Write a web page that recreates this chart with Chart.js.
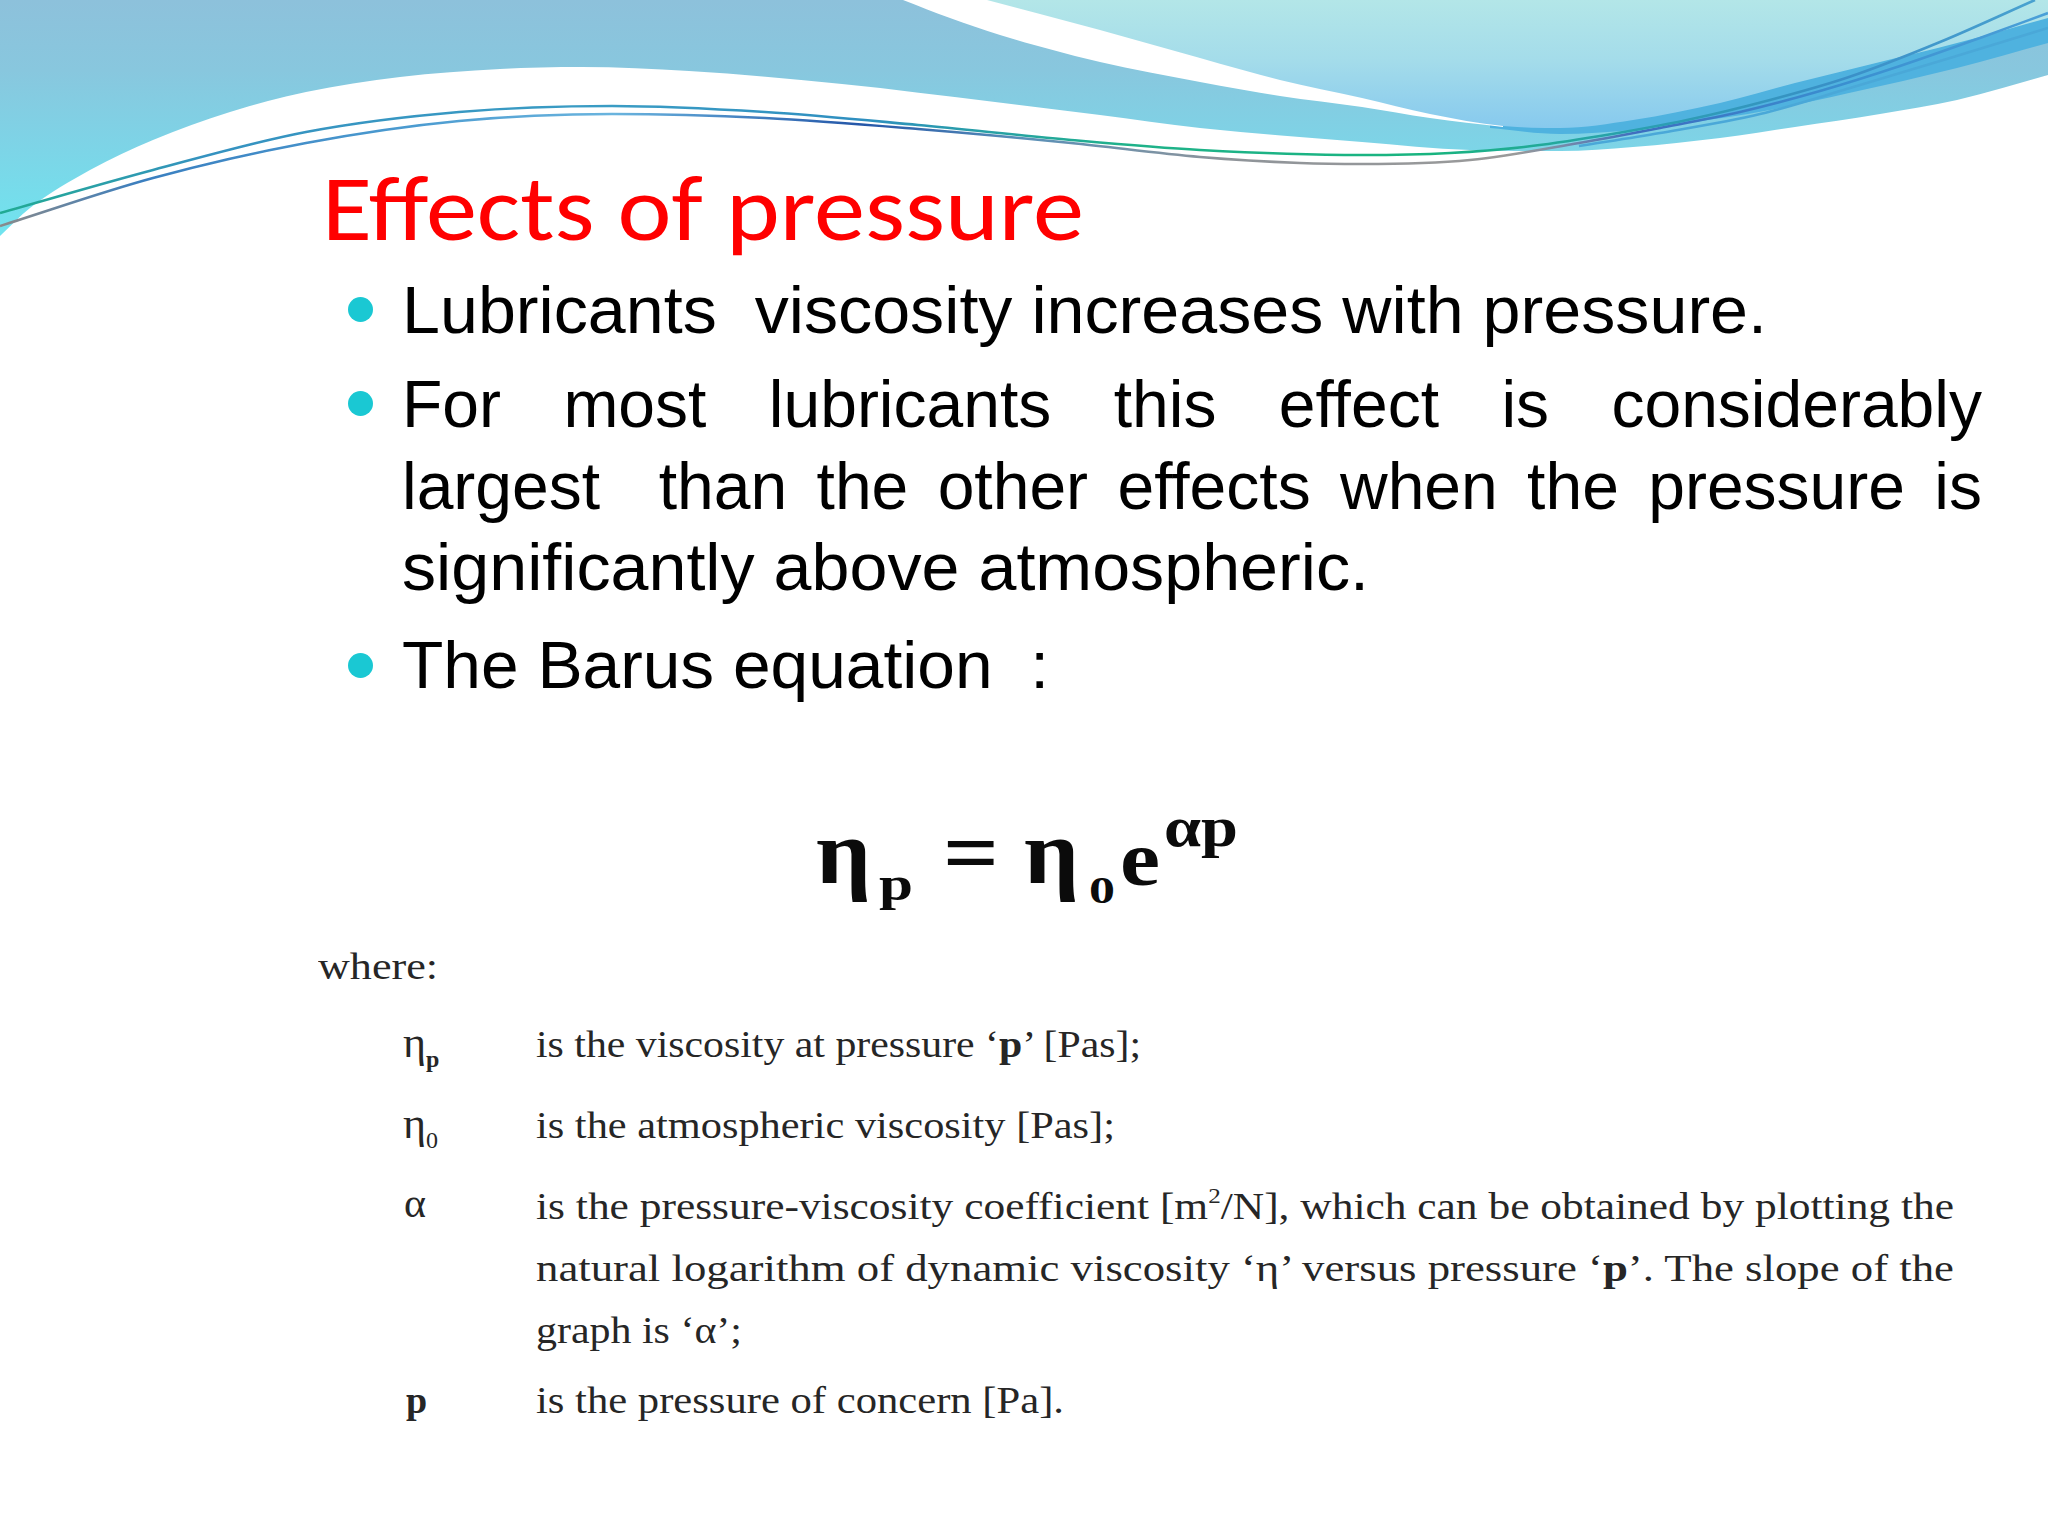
<!DOCTYPE html>
<html>
<head>
<meta charset="utf-8">
<script src="https://cdn.jsdelivr.net/npm/chart.js@4.4.1/dist/chart.umd.min.js"></script>
<style>
html,body{margin:0;padding:0;background:#fff;}
#slide{position:relative;width:2048px;height:1536px;overflow:hidden;background:#fff;}
#waves{position:absolute;left:0;top:0;}
.t{position:absolute;white-space:pre;display:inline-block;transform-origin:0 0;}
.title{font-family:Carlito,Lato,"Open Sans",sans-serif;color:#ff0000;font-size:93px;}
.body{font-family:"Liberation Sans",Arial,sans-serif;font-size:66px;color:#000;}
.ser{font-family:"Liberation Serif","Times New Roman",serif;color:#262626;font-size:38px;}
.eq{font-family:"Liberation Serif","Times New Roman",serif;font-weight:bold;color:#0b0b0b;}
.just{white-space:normal;text-align:justify;text-align-last:justify;}
.dot{position:absolute;width:25px;height:25px;border-radius:50%;background:#1ac8d3;}
</style>
</head>
<body>
<div id="slide">
  <canvas id="waves" width="2048" height="300"></canvas>
</div>
<script>
// wave outlines, [x, y] in page pixels, y measured down from the top
const blueLower = [[0,236],[30,208],[90,170],[153,140],[230,112],[306,92],[400,77],[500,69],[582,67],[689,71],[842,84],[995,102],[1100,115],[1200,128],[1362,142],[1470,150],[1560,151],[1633,147],[1720,138],[1795,127],[1880,114],[1957,100],[2048,75]];
const darkLower = [[1490,128],[1560,134],[1633,130],[1687,123],[1770,110],[1849,93],[1957,68],[2048,43]];
const whiteLower = [[903,0],[950,18],[1000,35],[1100,62],[1200,82],[1280,96],[1362,107],[1430,118],[1503,127]];
const lightLower = [[987,0],[1040,14],[1100,30],[1200,58],[1280,80],[1362,98],[1430,114],[1503,126],[1560,128],[1633,120],[1720,103],[1795,83],[1880,62],[1957,43],[2048,18]];
const swooshGreen = [[0,213],[153,170],[306,132],[459,112],[612,106],[765,112],[918,125],[1071,140],[1200,150],[1362,155],[1450,153],[1524,147],[1600,136],[1687,120],[1770,100],[1849,77],[1940,42],[2035,0]];
const swooshBlue = [[0,226],[153,178],[306,143],[459,121],[612,114],[765,118],[918,129],[1071,143],[1200,157],[1300,163],[1362,164],[1470,160],[1579,143],[1660,128],[1740,112],[1820,91],[1900,66],[1980,38],[2048,13]];
const swooshLight = [[1579,146],[1660,133],[1760,114],[1850,88],[1950,58],[2048,28]];

const pts = a => a.map(p => ({x: p[0], y: p[1]}));

function vGrad(stops) {
  return c => {
    const ch = c.chart;
    if (!ch.chartArea) return stops[0][1];
    const y = ch.scales.y;
    const max = stops[stops.length - 1][0];
    const g = ch.ctx.createLinearGradient(0, y.getPixelForValue(0), 0, y.getPixelForValue(max));
    stops.forEach(s => g.addColorStop(s[0] / max, s[1]));
    return g;
  };
}
function hGrad(stops) {
  return c => {
    const ch = c.chart;
    if (!ch.chartArea) return stops[0][1];
    const g = ch.ctx.createLinearGradient(0, 0, ch.width, 0);
    stops.forEach(s => g.addColorStop(s[0], s[1]));
    return g;
  };
}

function area(data, color, order) {
  return {data: pts(data), fill: {value: 0}, backgroundColor: color, borderWidth: 0,
    pointRadius: 0, cubicInterpolationMode: 'monotone', order: order};
}
function swoosh(data, color, order) {
  return {data: pts(data), fill: false, borderColor: color, borderWidth: 2.6,
    pointRadius: 0, cubicInterpolationMode: 'monotone', order: order};
}

new Chart(document.getElementById('waves'), {
  type: 'line',
  data: {
    datasets: [
      area(blueLower, vGrad([[0,'#8dc1db'],[70,'#88c7de'],[140,'#7ed3e6'],[236,'#70e4ef']]), 10),
      area(darkLower, '#4fb2df', 9),
      area(whiteLower, '#ffffff', 8),
      area(lightLower, vGrad([[0,'#b3e6e8'],[60,'#a4dcea'],[130,'#86c9ee']]), 7),
      swoosh(swooshLight, '#4aa8d8', 3),
      swoosh(swooshBlue, hGrad([[0,'#8a8a8a'],[0.07,'#3a7fc0'],[0.2,'#4b9bd0'],[0.3,'#6ab4de'],[0.42,'#2456a8'],[0.5,'#5a90b8'],[0.6,'#8f9499'],[0.74,'#9a9a9a'],[0.8,'#3d6dc0'],[0.9,'#3a8fd0'],[1,'#4aa0d8']]), 2),
      swoosh(swooshGreen, hGrad([[0,'#20ab92'],[0.1,'#3592c0'],[0.3,'#3a9cc4'],[0.42,'#2f8fc0'],[0.55,'#1fb28a'],[0.7,'#19b47f'],[0.8,'#2aa0b0'],[0.9,'#3a8fc8'],[1,'#4aa3d0']]), 1)
    ]
  },
  options: {
    responsive: false,
    animation: false,
    events: [],
    layout: {padding: 0},
    plugins: {legend: {display: false}, tooltip: {enabled: false}},
    scales: {
      x: {type: 'linear', min: 0, max: 2048, display: false},
      y: {type: 'linear', min: 0, max: 300, reverse: true, display: false}
    }
  }
});

// slide text
const slide = document.getElementById('slide');
function put(cls, html, x, base, fitW, style) {
  const el = document.createElement('div');
  el.className = 't ' + cls;
  el.innerHTML = html;
  if (style) el.style.cssText += style;
  el.style.left = x + 'px';
  el.style.top = '0px';
  slide.appendChild(el);
  const probe = document.createElement('span');
  probe.style.cssText = 'display:inline-block;width:0;height:0;vertical-align:baseline';
  el.appendChild(probe);
  const b = probe.getBoundingClientRect().top - el.getBoundingClientRect().top;
  probe.remove();
  el.style.top = (base - b) + 'px';
  if (fitW) {
    const w = el.getBoundingClientRect().width;
    el.style.transform = 'scaleX(' + (fitW / w) + ')';
  }
  return el;
}
function dot(cx, cy) {
  const d = document.createElement('div');
  d.className = 'dot';
  d.style.left = (cx - 12.5) + 'px';
  d.style.top = (cy - 12.5) + 'px';
  slide.appendChild(d);
}

put('title', 'Effects of pressure', 322, 240, 762);

dot(360, 309); dot(360, 403); dot(360, 665);
put('body', 'Lubricants  viscosity increases with pressure.', 402, 333, 1365);
put('body just', 'For most lubricants this effect is considerably', 402, 427, 0, 'width:1580px');
put('body just', 'largest&nbsp; than the other effects when the pressure is', 402, 509, 0, 'width:1580px');
put('body', 'significantly above atmospheric.', 402, 590, 967);
put('body', 'The Barus equation  :', 402, 688, 647);

// Barus equation
put('eq', '\u03b7', 816, 883, 55, 'font-size:90px');
put('eq', 'p', 879, 900, 34, 'font-size:48px');
put('eq', '=', 943, 883, 56, 'font-size:88px');
put('eq', '\u03b7', 1024, 883, 55, 'font-size:90px');
put('eq', '0', 1089, 903, 26, 'font-size:38px');
put('eq', 'e', 1120, 885, 40, 'font-size:78px');
put('eq', '\u03b1p', 1164, 846, 74, 'font-size:56px');

// definitions
put('ser', 'where:', 318, 979, 120);
put('ser', '\u03b7<span style="font-size:24px;font-weight:bold;position:relative;top:10px">p</span>', 403, 1057, 0, 'font-size:44px');
put('ser', 'is the viscosity at pressure \u2018<b>p</b>\u2019 [Pas];', 536, 1057, 605);
put('ser', '\u03b7<span style="font-size:24px;position:relative;top:10px">0</span>', 403, 1138, 0, 'font-size:44px');
put('ser', 'is the atmospheric viscosity [Pas];', 536, 1138, 579);
put('ser', '\u03b1', 404, 1217, 0, 'font-size:42px');
put('ser', 'is the pressure-viscosity coefficient [m<span style="font-size:22px;position:relative;top:-16px">2</span>/N], which can be obtained by plotting the', 536, 1219, 1418);
put('ser', 'natural logarithm of dynamic viscosity \u2018\u03b7\u2019 versus pressure \u2018<b>p</b>\u2019. The slope of the', 536, 1281, 1418);
put('ser', 'graph is \u2018\u03b1\u2019;', 536, 1343, 206);
put('ser', '<b>p</b>', 406, 1413, 0, 'font-size:38px');
put('ser', 'is the pressure of concern [Pa].', 536, 1413, 528);
</script>
</body>
</html>
